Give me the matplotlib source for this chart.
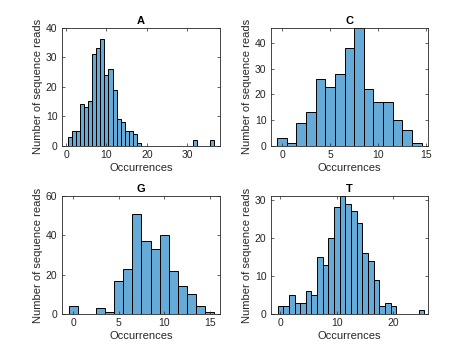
import matplotlib
matplotlib.use("Agg")
import matplotlib.pyplot as plt

plt.rcParams['font.family'] = ['Liberation Sans', 'DejaVu Sans']

# bin centres (integer occurrences) and counts for each base
a_occ = list(range(1, 19)) + [32, 36]
a_cnt = [3, 5, 5, 14, 13, 15, 31, 33, 36, 24, 26, 19, 9, 8, 5, 5, 4, 1, 2, 2]

c_occ = list(range(0, 15))
c_cnt = [3, 1, 9, 13, 26, 23, 28, 38, 46, 22, 17, 17, 10, 6, 1]

g_occ = list(range(0, 16))
g_cnt = [4, 0, 0, 3, 1, 17, 23, 51, 37, 33, 40, 22, 14, 10, 4, 1]

t_occ = list(range(0, 26))
t_cnt = [2, 2, 5, 3, 3, 6, 5, 15, 13, 20, 28, 31, 29, 27, 24, 16, 14, 9, 2, 3, 2,
         0, 0, 0, 0, 1]

titles = ['A', 'C', 'G', 'T']
xlabel = 'Occurrences'
ylabel = 'Number of sequence reads'

face = (0.4, 0.668, 0.845)
dark = (0.15, 0.15, 0.15)

fig = plt.figure(figsize=(4.74, 3.55), dpi=100)

panels = [
    # data, axes rect, xlim, ylim, xticks, yticks
    (a_occ, a_cnt, [0.130, 0.5896, 0.3350, 0.3324], (-1.1, 38.2), (0, 40), [0, 10, 20, 30], [0, 10, 20, 30, 40]),
    (c_occ, c_cnt, [0.5707, 0.5896, 0.3330, 0.3324], (-1.2, 15.2), (0, 46), [0, 5, 10, 15], [0, 10, 20, 30, 40]),
    (g_occ, g_cnt, [0.130, 0.1155, 0.3350, 0.3324], (-1.3, 16.2), (0, 60), [0, 5, 10, 15], [0, 20, 40, 60]),
    (t_occ, t_cnt, [0.5707, 0.1155, 0.3330, 0.3324], (-1.76, 26.2), (0, 31), [0, 10, 20], [0, 10, 20, 30]),
]

for title, (occ, cnt, rect, xl, yl, xt, yt) in zip(titles, panels):
    ax = fig.add_axes(rect)
    ax.bar(occ, cnt, width=1.0, color=face, edgecolor='black', linewidth=0.7)
    ax.set_xlim(*xl)
    ax.set_ylim(*yl)
    ax.set_xticks(xt)
    ax.set_yticks(yt)
    ax.tick_params(direction='in', length=2, width=0.5, colors=dark,
                   labelsize=7.5, top=True, right=True, pad=3)
    for s in ax.spines.values():
        s.set_color(dark)
        s.set_linewidth(0.6)
    ax.set_title(title, fontsize=8, fontweight='bold', pad=3)
    ax.set_xlabel(xlabel, fontsize=8, color=dark, labelpad=2)
    ax.set_ylabel(ylabel, fontsize=8, color=dark, labelpad=2)

fig.savefig('out.png', dpi=100)
